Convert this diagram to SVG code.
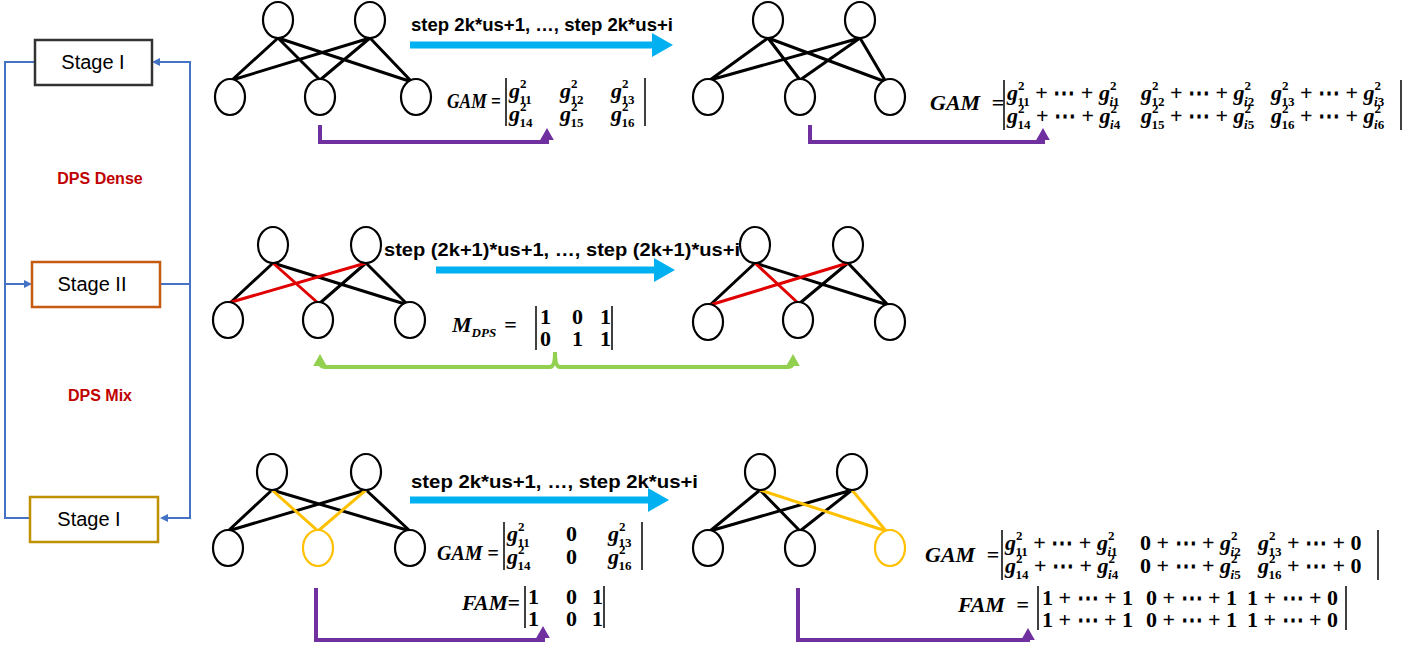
<svg xmlns="http://www.w3.org/2000/svg" width="1411" height="652" viewBox="0 0 1411 652">
<style>
.bg{fill:#fff}
.box{fill:#fff;stroke-width:2.5}
.lbl{font-family:"Liberation Sans",Arial,sans-serif;font-size:20px;fill:#000}
.dps{font-family:"Liberation Sans",Arial,sans-serif;font-size:16px;font-weight:bold;fill:#c00000}
.flow{fill:none;stroke:#4472c4;stroke-width:2}
.n{fill:#fff;stroke:#000;stroke-width:2.2}
.ny{fill:#fff;stroke:#ffc000;stroke-width:2.2}
.e{stroke:#000;stroke-width:3;fill:none}
.er{stroke:#e00000;stroke-width:3;fill:none}
.ey{stroke:#ffc000;stroke-width:3;fill:none}
.step{font-family:"Liberation Sans",Arial,sans-serif;font-size:19px;font-weight:bold;fill:#000}
.blue{stroke:#00b0f0;stroke-width:7;fill:none}
.pur{stroke:#7030a0;stroke-width:4;fill:none}
.grn{stroke:#92d050;stroke-width:4;fill:none}
.m{font-family:"Liberation Serif","DejaVu Serif",serif;font-weight:bold;font-size:22px;fill:#000}
.i{font-style:italic}
.s{font-size:13px}
.bar{stroke:#000;stroke-width:1.5}
</style>
<defs>
<marker id="ab" markerWidth="8" markerHeight="8" refX="6" refY="4" orient="auto" markerUnits="userSpaceOnUse"><path d="M0,0 L8,4 L0,8 Z" fill="#4472c4"/></marker>
<marker id="ac" markerWidth="4" markerHeight="4" refX="2" refY="2" orient="auto"><path d="M0,0.3 L3,2 L0,3.7 Z" fill="#00b0f0"/></marker>
<marker id="ap" markerWidth="4" markerHeight="4" refX="2" refY="2" orient="auto"><path d="M0,0.3 L3,2 L0,3.7 Z" fill="#7030a0"/></marker>
<marker id="ag" markerWidth="4" markerHeight="4" refX="2" refY="2" orient="auto"><path d="M0,0.3 L3,2 L0,3.7 Z" fill="#92d050"/></marker>
</defs>
<rect class="bg" width="1411" height="652"/>

<g id="connectors">
<path class="flow" d="M35,62 H5 V518 H30"/>
<path class="flow" d="M5,284 H30" marker-end="url(#ab)"/>
<path class="flow" d="M160,284 H190"/>
<path class="flow" d="M190,284 V62 H154" marker-end="url(#ab)"/>
<path class="flow" d="M190,284 V518 H162" marker-end="url(#ab)"/>
<path class="blue" d="M410,45 H666" marker-end="url(#ac)"/>
<path class="blue" d="M436,270 H668" marker-end="url(#ac)"/>
<path class="blue" d="M410,500 H662" marker-end="url(#ac)"/>
<path class="pur" d="M320,125 V142 H547 V132" marker-end="url(#ap)"/>
<path class="pur" d="M810,125 V142 H1043 V132" marker-end="url(#ap)"/>
<path class="pur" d="M316,588 V640 H543 V630" marker-end="url(#ap)"/>
<path class="pur" d="M798,588 V640 H1028 V632" marker-end="url(#ap)"/>
<path class="grn" d="M320,362 Q320,367 325,367 H550 Q555,367 555,352 Q555,367 560,367 H788 Q793,367 793,362 V358" marker-end="url(#ag)"/>
<path class="grn" d="M320,362 V358" marker-end="url(#ag)"/>
</g>

<g id="stage1top"><rect class="box" x="35" y="40" width="117" height="45" stroke="#333"/><text class="lbl" x="93" y="69" text-anchor="middle">Stage I</text></g>
<g id="stage2"><rect class="box" x="32" y="262" width="128" height="45" stroke="#c55a11"/><text class="lbl" x="92" y="291" text-anchor="middle">Stage II</text></g>
<g id="stage1bot"><rect class="box" x="30" y="497" width="128" height="45" stroke="#bf9000"/><text class="lbl" x="89" y="526" text-anchor="middle">Stage I</text></g>
<text class="dps" x="100" y="184" text-anchor="middle">DPS Dense</text>
<text class="dps" x="100" y="401" text-anchor="middle">DPS Mix</text>

<g id="graphA">
<path class="e" d="M278,38 L232,80 M278,38 L320,80 M278,38 L412,82 M370,38 L232,80 M370,38 L320,80 M370,38 L412,82"/>
<ellipse class="n" cx="278" cy="20" rx="15" ry="18"/><ellipse class="n" cx="370" cy="20" rx="15" ry="18"/>
<ellipse class="n" cx="230" cy="97" rx="15" ry="18"/><ellipse class="n" cx="320" cy="97" rx="15" ry="18"/><ellipse class="n" cx="416" cy="97" rx="15" ry="18"/>
</g>
<g id="graphB">
<path class="e" d="M768,38 L710,80 M768,38 L800,80 M768,38 L886,82 M860,38 L710,80 M860,38 L800,80 M860,38 L886,82"/>
<ellipse class="n" cx="768" cy="20" rx="15" ry="18"/><ellipse class="n" cx="860" cy="20" rx="15" ry="18"/>
<ellipse class="n" cx="708" cy="97" rx="15" ry="18"/><ellipse class="n" cx="800" cy="97" rx="15" ry="18"/><ellipse class="n" cx="890" cy="97" rx="15" ry="18"/>
</g>
<g id="graphC">
<path class="e" d="M273,263 L230,303 M273,263 L408,305 M366,263 L320,303 M366,263 L408,305"/>
<path class="er" d="M273,263 L318,303 M366,263 L228,303"/>
<ellipse class="n" cx="273" cy="245" rx="15" ry="18"/><ellipse class="n" cx="366" cy="245" rx="15" ry="18"/>
<ellipse class="n" cx="228" cy="320" rx="15" ry="18"/><ellipse class="n" cx="318" cy="320" rx="15" ry="18"/><ellipse class="n" cx="410" cy="320" rx="15" ry="18"/>
</g>
<g id="graphD">
<path class="e" d="M755,263 L710,305 M755,263 L888,305 M848,263 L800,303 M848,263 L888,305"/>
<path class="er" d="M755,263 L798,303 M848,263 L710,305"/>
<ellipse class="n" cx="755" cy="245" rx="15" ry="18"/><ellipse class="n" cx="848" cy="245" rx="15" ry="18"/>
<ellipse class="n" cx="708" cy="322" rx="15" ry="18"/><ellipse class="n" cx="798" cy="320" rx="15" ry="18"/><ellipse class="n" cx="890" cy="322" rx="15" ry="18"/>
</g>
<g id="graphE">
<path class="e" d="M272,490 L228,531 M272,490 L410,531 M366,490 L228,531 M366,490 L410,531"/>
<path class="ey" d="M272,490 L318,531 M366,490 L318,531"/>
<ellipse class="n" cx="272" cy="472" rx="15" ry="18"/><ellipse class="n" cx="366" cy="472" rx="15" ry="18"/>
<ellipse class="n" cx="228" cy="548" rx="15" ry="18"/><ellipse class="ny" cx="318" cy="548" rx="15" ry="18"/><ellipse class="n" cx="410" cy="548" rx="15" ry="18"/>
</g>
<g id="graphF">
<path class="e" d="M760,490 L710,531 M760,490 L800,531 M852,490 L710,531 M852,490 L800,531"/>
<path class="ey" d="M760,490 L886,531 M852,490 L886,531"/>
<ellipse class="n" cx="760" cy="472" rx="15" ry="18"/><ellipse class="n" cx="852" cy="472" rx="15" ry="18"/>
<ellipse class="n" cx="708" cy="548" rx="15" ry="18"/><ellipse class="n" cx="800" cy="548" rx="15" ry="18"/><ellipse class="ny" cx="890" cy="548" rx="15" ry="18"/>
</g>

<text class="step" x="411" y="31" textLength="262" lengthAdjust="spacingAndGlyphs">step 2k*us+1, …, step 2k*us+i</text>
<text class="step" x="384" y="256" textLength="356" lengthAdjust="spacingAndGlyphs">step (2k+1)*us+1, …, step (2k+1)*us+i</text>
<text class="step" x="411" y="488" textLength="287" lengthAdjust="spacingAndGlyphs">step 2k*us+1, …, step 2k*us+i</text>

<g id="gamA">
<text class="m i" x="447" y="108" textLength="54" lengthAdjust="spacingAndGlyphs">GAM <tspan font-style="normal">=</tspan></text>
<line class="bar" x1="506" y1="78" x2="506" y2="126"/><line class="bar" x1="645" y1="78" x2="645" y2="126"/>
<text class="m" x="509" y="98"><tspan class="i">g</tspan><tspan class="s" dy="-10">2</tspan><tspan class="s" dx="-7" dy="16">11</tspan></text>
<text class="m" x="560" y="98"><tspan class="i">g</tspan><tspan class="s" dy="-10">2</tspan><tspan class="s" dx="-7" dy="16">12</tspan></text>
<text class="m" x="611" y="98"><tspan class="i">g</tspan><tspan class="s" dy="-10">2</tspan><tspan class="s" dx="-7" dy="16">13</tspan></text>
<text class="m" x="509" y="121"><tspan class="i">g</tspan><tspan class="s" dy="-10">2</tspan><tspan class="s" dx="-7" dy="16">14</tspan></text>
<text class="m" x="560" y="121"><tspan class="i">g</tspan><tspan class="s" dy="-10">2</tspan><tspan class="s" dx="-7" dy="16">15</tspan></text>
<text class="m" x="611" y="121"><tspan class="i">g</tspan><tspan class="s" dy="-10">2</tspan><tspan class="s" dx="-7" dy="16">16</tspan></text>
</g>

<g id="gamB">
<text class="m i" x="930" y="110">GAM <tspan font-style="normal" dx="6">=</tspan></text>
<line class="bar" x1="1004" y1="80" x2="1004" y2="130"/><line class="bar" x1="1401" y1="80" x2="1401" y2="130"/>
<text class="m" x="1007" y="100"><tspan class="i">g</tspan><tspan class="s" dy="-10">2</tspan><tspan class="s" dx="-7" dy="16">11</tspan><tspan dy="-6"> + ⋯ + </tspan><tspan class="i">g</tspan><tspan class="s" dy="-10">2</tspan><tspan class="s" dx="-7" dy="16"><tspan class="i">i</tspan>1</tspan></text>
<text class="m" x="1141" y="100"><tspan class="i">g</tspan><tspan class="s" dy="-10">2</tspan><tspan class="s" dx="-7" dy="16">12</tspan><tspan dy="-6"> + ⋯ + </tspan><tspan class="i">g</tspan><tspan class="s" dy="-10">2</tspan><tspan class="s" dx="-7" dy="16"><tspan class="i">i</tspan>2</tspan></text>
<text class="m" x="1271" y="100"><tspan class="i">g</tspan><tspan class="s" dy="-10">2</tspan><tspan class="s" dx="-7" dy="16">13</tspan><tspan dy="-6"> + ⋯ + </tspan><tspan class="i">g</tspan><tspan class="s" dy="-10">2</tspan><tspan class="s" dx="-7" dy="16"><tspan class="i">i</tspan>3</tspan></text>
<text class="m" x="1007" y="123"><tspan class="i">g</tspan><tspan class="s" dy="-10">2</tspan><tspan class="s" dx="-7" dy="16">14</tspan><tspan dy="-6"> + ⋯ + </tspan><tspan class="i">g</tspan><tspan class="s" dy="-10">2</tspan><tspan class="s" dx="-7" dy="16"><tspan class="i">i</tspan>4</tspan></text>
<text class="m" x="1141" y="123"><tspan class="i">g</tspan><tspan class="s" dy="-10">2</tspan><tspan class="s" dx="-7" dy="16">15</tspan><tspan dy="-6"> + ⋯ + </tspan><tspan class="i">g</tspan><tspan class="s" dy="-10">2</tspan><tspan class="s" dx="-7" dy="16"><tspan class="i">i</tspan>5</tspan></text>
<text class="m" x="1271" y="123"><tspan class="i">g</tspan><tspan class="s" dy="-10">2</tspan><tspan class="s" dx="-7" dy="16">16</tspan><tspan dy="-6"> + ⋯ + </tspan><tspan class="i">g</tspan><tspan class="s" dy="-10">2</tspan><tspan class="s" dx="-7" dy="16"><tspan class="i">i</tspan>6</tspan></text>
</g>

<g id="mdps">
<text class="m i" x="452" y="332">M<tspan class="s" dy="5">DPS</tspan><tspan font-style="normal" dy="-5" dx="8">=</tspan></text>
<line class="bar" x1="536" y1="306" x2="536" y2="350"/><line class="bar" x1="612" y1="306" x2="612" y2="350"/>
<text class="m" x="540" y="324">1</text><text class="m" x="572" y="324">0</text><text class="m" x="600" y="324">1</text>
<text class="m" x="540" y="346">0</text><text class="m" x="572" y="346">1</text><text class="m" x="600" y="346">1</text>
</g>

<g id="gamE">
<text class="m i" x="437" y="560" textLength="62" lengthAdjust="spacingAndGlyphs">GAM <tspan font-style="normal">=</tspan></text>
<line class="bar" x1="504" y1="522" x2="504" y2="570"/><line class="bar" x1="642" y1="522" x2="642" y2="570"/>
<text class="m" x="507" y="541"><tspan class="i">g</tspan><tspan class="s" dy="-10">2</tspan><tspan class="s" dx="-7" dy="16">11</tspan></text>
<text class="m" x="566" y="541">0</text>
<text class="m" x="608" y="541"><tspan class="i">g</tspan><tspan class="s" dy="-10">2</tspan><tspan class="s" dx="-7" dy="16">13</tspan></text>
<text class="m" x="507" y="564"><tspan class="i">g</tspan><tspan class="s" dy="-10">2</tspan><tspan class="s" dx="-7" dy="16">14</tspan></text>
<text class="m" x="566" y="564">0</text>
<text class="m" x="608" y="564"><tspan class="i">g</tspan><tspan class="s" dy="-10">2</tspan><tspan class="s" dx="-7" dy="16">16</tspan></text>
<text class="m i" x="462" y="610" textLength="58" lengthAdjust="spacingAndGlyphs">FAM<tspan font-style="normal">=</tspan></text>
<line class="bar" x1="525" y1="586" x2="525" y2="628"/><line class="bar" x1="604" y1="586" x2="604" y2="628"/>
<text class="m" x="528" y="604">1</text><text class="m" x="566" y="604">0</text><text class="m" x="592" y="604">1</text>
<text class="m" x="528" y="626">1</text><text class="m" x="566" y="626">0</text><text class="m" x="592" y="626">1</text>
</g>

<g id="gamF">
<text class="m i" x="925" y="562">GAM <tspan font-style="normal" dx="6">=</tspan></text>
<line class="bar" x1="1002" y1="530" x2="1002" y2="580"/><line class="bar" x1="1378" y1="530" x2="1378" y2="580"/>
<text class="m" x="1005" y="550"><tspan class="i">g</tspan><tspan class="s" dy="-10">2</tspan><tspan class="s" dx="-7" dy="16">11</tspan><tspan dy="-6"> + ⋯ + </tspan><tspan class="i">g</tspan><tspan class="s" dy="-10">2</tspan><tspan class="s" dx="-7" dy="16"><tspan class="i">i</tspan>1</tspan></text>
<text class="m" x="1140" y="550">0 + ⋯ + <tspan class="i">g</tspan><tspan class="s" dy="-10">2</tspan><tspan class="s" dx="-7" dy="16"><tspan class="i">i</tspan>2</tspan></text>
<text class="m" x="1258" y="550"><tspan class="i">g</tspan><tspan class="s" dy="-10">2</tspan><tspan class="s" dx="-7" dy="16">13</tspan><tspan dy="-6"> + ⋯ + 0</tspan></text>
<text class="m" x="1005" y="573"><tspan class="i">g</tspan><tspan class="s" dy="-10">2</tspan><tspan class="s" dx="-7" dy="16">14</tspan><tspan dy="-6"> + ⋯ + </tspan><tspan class="i">g</tspan><tspan class="s" dy="-10">2</tspan><tspan class="s" dx="-7" dy="16"><tspan class="i">i</tspan>4</tspan></text>
<text class="m" x="1140" y="573">0 + ⋯ + <tspan class="i">g</tspan><tspan class="s" dy="-10">2</tspan><tspan class="s" dx="-7" dy="16"><tspan class="i">i</tspan>5</tspan></text>
<text class="m" x="1258" y="573"><tspan class="i">g</tspan><tspan class="s" dy="-10">2</tspan><tspan class="s" dx="-7" dy="16">16</tspan><tspan dy="-6"> + ⋯ + 0</tspan></text>
<text class="m i" x="958" y="612">FAM <tspan font-style="normal" dx="6">=</tspan></text>
<line class="bar" x1="1038" y1="586" x2="1038" y2="630"/><line class="bar" x1="1346" y1="586" x2="1346" y2="630"/>
<text class="m" x="1042" y="605">1 + ⋯ + 1</text><text class="m" x="1146" y="605">0 + ⋯ + 1</text><text class="m" x="1247" y="605">1 + ⋯ + 0</text>
<text class="m" x="1042" y="627">1 + ⋯ + 1</text><text class="m" x="1146" y="627">0 + ⋯ + 1</text><text class="m" x="1247" y="627">1 + ⋯ + 0</text>
</g>
</svg>
